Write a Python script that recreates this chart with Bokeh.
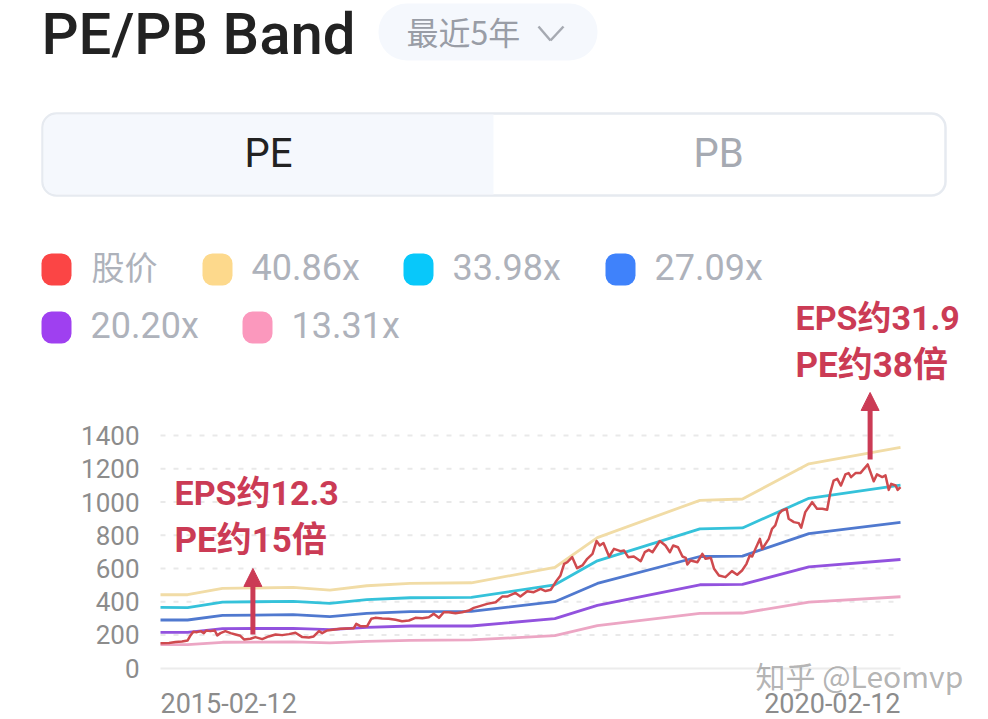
import pandas as pd
from bokeh.embed import file_html
from bokeh.resources import INLINE
from bokeh.plotting import figure
from bokeh.models import (Range1d, LinearAxis, FixedTicker, Label, BoxAnnotation,
                          Arrow, NormalHead)

title = "PE/PB Band"
period = "最近5年"
tabs = ["PE", "PB"]
x_labels = ["2015-02-12", "2020-02-12"]
y_ticks = [0, 200, 400, 600, 800, 1000, 1200, 1400]

band_dates = ["2015-02-12", "2015-04-20", "2015-07-15", "2016-01-05", "2016-04-05", "2016-07-05", "2016-10-20",
              "2017-03-20", "2017-10-12", "2018-01-25", "2018-10-05", "2019-01-18", "2019-07-01", "2020-02-12"]
band_4086 = [442, 442, 480, 486, 470, 496, 510, 514, 606, 786, 1010, 1018, 1230, 1328]
band_3398 = [366, 364, 398, 402, 390, 412, 424, 426, 502, 646, 838, 844, 1022, 1102]
band_2709 = [290, 290, 318, 322, 310, 330, 340, 342, 400, 510, 672, 674, 810, 878]
band_2020 = [216, 216, 238, 240, 232, 246, 254, 254, 298, 378, 502, 504, 610, 654]
band_1331 = [142, 142, 156, 158, 152, 162, 168, 170, 196, 256, 330, 332, 398, 430]

price_days = [0, 21, 37, 53, 67, 74, 81, 90, 99, 107, 113, 123, 134, 140, 148, 160, 173, 185, 197, 206, 222, 234,
              251, 267, 284, 300, 317, 333, 350, 366, 378, 391, 399, 411, 444, 477, 483, 493, 510, 520, 530, 547,
              563, 580, 596, 613, 629, 646, 662, 674, 687, 699, 711, 728, 744, 761, 773, 790, 806, 827, 843, 855,
              876, 888, 905, 921, 938, 950, 963, 975, 987, 996, 1004, 1016, 1028, 1041, 1053, 1066, 1076, 1084,
              1093, 1107, 1119, 1135, 1144, 1154, 1168, 1185, 1195, 1205, 1214, 1232, 1246, 1257, 1265, 1277, 1288,
              1296, 1300, 1308, 1325, 1337, 1345, 1358, 1366, 1378, 1394, 1410, 1423, 1435, 1446, 1454, 1460, 1468,
              1479, 1485, 1501, 1509, 1517, 1526, 1534, 1545, 1550, 1563, 1575, 1581, 1591, 1608, 1620, 1633, 1645,
              1653, 1661, 1670, 1679, 1690, 1698, 1704, 1715, 1727, 1745, 1760, 1768, 1781, 1789, 1797, 1803, 1814,
              1819, 1826]
price = [150, 152, 157, 161, 167, 197, 219, 217, 223, 211, 227, 223, 227, 197, 211, 223, 211, 203, 195, 173, 177, 187,
         175, 191, 203, 199, 205, 213, 187, 185, 191, 223, 211, 227, 237, 241, 267, 253, 253, 297, 303, 299,
         297, 291, 283, 287, 303, 301, 307, 327, 303, 337, 337, 331, 337, 347, 363, 375, 387, 397, 431, 431,
         453, 431, 463, 457, 477, 464, 472, 518, 558, 628, 638, 668, 602, 618, 658, 688, 765, 738,
         753, 672, 718, 704, 708, 668, 672, 644, 698, 712, 698, 765, 738, 698, 738, 728, 672,
         664, 624, 648, 638, 688, 658, 664, 598, 558, 548, 584, 562, 588, 628, 678, 672, 718,
         778, 718, 778, 839, 859, 929, 949, 959, 899, 879, 873, 845, 939, 999, 959, 959, 953,
         1059, 1129, 1139, 1099, 1166, 1174, 1150, 1174, 1174, 1226, 1125, 1166, 1150, 1160, 1073, 1109, 1099,
         1073, 1090]

series_names = ["股价", "40.86x", "33.98x", "27.09x", "20.20x", "13.31x"]
swatch_colors = ["#fb4545", "#fdd98c", "#08c8fa", "#3f82fb", "#9f40f0", "#fb98bd"]
line_colors = ["#cf4a4e", "#f1dca6", "#35c2da", "#5079cf", "#9252de", "#eca6c4"]

note_texts = ["EPS约12.3", "PE约15倍", "EPS约31.9", "PE约38倍"]
arrow_dates = ["2015-09-28", "2019-11-29"]
arrow_low = [203, 1256]
arrow_high = [600, 1659]

watermark = "知乎 @Leomvp"

LATIN = "Roboto, 'Noto Sans CJK SC'"
CJK = "'Noto Sans CJK SC'"
RED = "#cb3b55"

t0 = pd.Timestamp(band_dates[0])
to_days = lambda d: (pd.Timestamp(d) - t0).days
band_x = [to_days(d) for d in band_dates]
span = to_days(band_dates[-1])

W, H = 988, 719
OX, OY = 0, 0
dpp = span / 740
vpp = 1 / 0.1662
p = figure(width=W, height=H, output_backend="svg", toolbar_location=None,
           x_axis_type=None, y_axis_type=None, min_border=0, outline_line_color=None,
           x_range=Range1d((OX - 160) * dpp, (OX + W - 160) * dpp),
           y_range=Range1d((667.7 - OY - H) * vpp, (667.7 - OY) * vpp))
p.grid.visible = False


def sy(py):
    return OY + H - py


def sx(px):
    return px - OX


def box(x0, y0, x1, y1, fill, line=None, radius=0, width=2):
    p.add_layout(BoxAnnotation(left=sx(x0), right=sx(x1), top=sy(y0), bottom=sy(y1),
                               left_units="screen", right_units="screen", top_units="screen", bottom_units="screen",
                               fill_color=fill, fill_alpha=1, line_color=line, line_alpha=1 if line else 0,
                               line_width=width, border_radius=radius, level="underlay"))


def text(px, py, s, size, color, font=LATIN, style="normal", align="left", alpha=1.0):
    p.add_layout(Label(x=sx(px), y=sy(py), x_units="screen", y_units="screen", text=s,
                       text_font=font, text_font_size=f"{size}px", text_font_style=style, text_color=color,
                       text_align=align, text_baseline="middle", text_alpha=alpha))


def seg(x0, y0, x1, y1, color, width):
    p.add_layout(Arrow(end=None, x_start=sx(x0), y_start=sy(y0), x_end=sx(x1), y_end=sy(y1),
                       start_units="screen", end_units="screen", line_color=color, line_width=width))


# header
text(41, 33, title, 58, "#222222", font="'Roboto Medium', Roboto")
box(378, 3, 597, 60, "#f5f8fd", radius=28)
text(406, 30, period, 32, "#999da6", font=CJK)
seg(538, 26, 550, 40, "#a6aab2", 2.5)
seg(550, 40, 563, 26, "#a6aab2", 2.5)

# tabs
box(42, 113, 945, 195, "#ffffff", "#e6eaf0", radius=14, width=2.5)
box(43, 114, 493, 194, "#f5f8fd", radius=(13, 0, 0, 13))
text(268, 153, tabs[0], 40, "#222222", align="center")
text(718, 153, tabs[1], 40, "#a6aab2", align="center")

# legend
swatch_pos = [(41, 253), (202, 253), (403, 253), (605, 253), (41, 311), (242, 311)]
for i, ((x, y), name, col) in enumerate(zip(swatch_pos, series_names, swatch_colors)):
    box(x, y, x + 30, y + 32, col, radius=10)
    if i == 0:
        text(x + 50, y + 12, name, 33, "#aeb2bb", font=CJK)
    else:
        text(x + 49, y + 14, name, 36, "#aeb2bb")

# chart
p.segment(x0=[0] * 7, x1=[span] * 7, y0=y_ticks[1:], y1=y_ticks[1:], line_color="#e9e9e9", line_width=2,
          line_dash="5 8")
y_axis = LinearAxis(fixed_location=0, ticker=FixedTicker(ticks=y_ticks), axis_line_color=None,
                    major_tick_line_color=None, minor_tick_line_color=None, major_label_standoff=15,
                    major_label_text_font=LATIN, major_label_text_font_size="26px",
                    major_label_text_color="#8c8c8c")
p.add_layout(y_axis, "left")
x_axis = LinearAxis(fixed_location=0, ticker=FixedTicker(ticks=[]), bounds=(0, span),
                    axis_line_color="#ececec", axis_line_width=2,
                    major_tick_line_color=None, minor_tick_line_color=None)
p.add_layout(x_axis, "below")

bands = [band_4086, band_3398, band_2709, band_2020, band_1331]
for vals, col in zip(bands, line_colors[1:]):
    p.line(band_x, vals, line_color=col, line_width=2.8, line_join="round")
p.line(price_days, price, line_color=line_colors[0], line_width=2.5, line_join="round")

for lab, xv, al in zip(x_labels, [0, span], ["left", "right"]):
    p.add_layout(Label(x=xv, y=sy(702), x_units="data", y_units="screen", text=lab, text_align=al,
                       text_baseline="middle", text_font=LATIN, text_font_size="27px", text_color="#8c8c8c"))

# callouts
for d, lo, hi in zip(arrow_dates, arrow_low, arrow_high):
    xv = to_days(d)
    p.add_layout(Arrow(end=NormalHead(size=18, fill_color=RED, line_color=RED),
                       x_start=xv, y_start=lo, x_end=xv, y_end=hi, line_color=RED, line_width=5))
note_pos = [(174, 492), (174, 540), (795, 317), (795, 365)]
note_sizes = [34, 35, 34, 35]
for (x, y), s, sz in zip(note_pos, note_texts, note_sizes):
    text(x, y, s, sz, RED, font="Roboto, 'Noto Sans CJK SC'", style="bold")

text(755, 674, watermark, 30, "#8a8a8a", font=CJK, alpha=0.65)

p.background_fill_color = "#ffffff"
open("out.html", "w").write(file_html(p, INLINE))
